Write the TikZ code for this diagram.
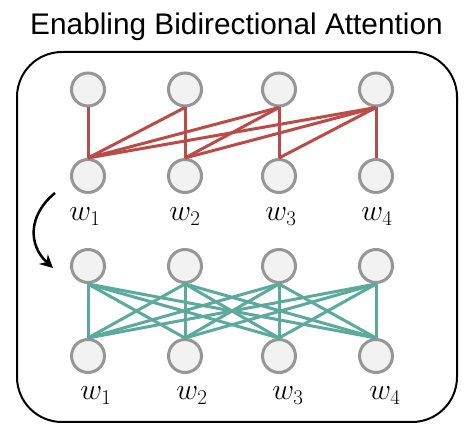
\RequirePackage{fix-cm}
\documentclass[tikz,border=0pt]{standalone}
\usepackage{fontspec}
\newfontfamily\titlefont{Liberation Sans}
\usetikzlibrary{arrows.meta}
\definecolor{ringgray}{HTML}{969696}
\definecolor{ballfill}{HTML}{F2F2F2}
\definecolor{causalred}{HTML}{BC4B48}
\definecolor{biditeal}{HTML}{5CAA9B}
\tikzset{
  tok/.style={circle, draw=ringgray, fill=ballfill, line width=3pt, minimum size=33pt, inner sep=0pt},
  redlink/.style={draw=causalred, line width=3pt},
  teallink/.style={draw=biditeal, line width=3pt},
  wlabel/.style={anchor=base, inner sep=0pt, font=\fontsize{30}{36}\selectfont},
  frame/.style={draw=black, line width=2pt, rounded corners=45pt, inner sep=0pt, minimum width=440pt, minimum height=370pt},
}
\begin{document}
\begin{tikzpicture}[x=1pt,y=-1pt]
\useasboundingbox (0,0) rectangle (474,427);
\node[anchor=base, inner sep=0pt, font=\titlefont\fontsize{29.8}{34}\selectfont] (title) at (236.5,35) {Enabling Bidirectional Attention};
\node[frame] (box) at (237,237) {};
% causal block
\foreach \i/\x in {1/88,2/185,3/279,4/376} {
  \node[tok] (ct\i) at (\x,89.5) {};
  \node[tok] (cb\i) at (\x,176) {};
}
\foreach \i in {1,...,4} {
  \foreach \j in {1,...,\i} {
    \draw[redlink] (ct\i.south) -- (cb\j.north);
  }
}
% bidirectional block
\foreach \i/\x in {1/88,2/185,3/279,4/376} {
  \node[tok] (bt\i) at (\x,266) {};
  \node[tok] (bb\i) at (\x,356) {};
}
\foreach \i in {1,...,4} {
  \foreach \j in {1,...,4} {
    \draw[teallink] (bt\i.south) -- (bb\j.north);
  }
}
% labels
\node[wlabel] (lt1) at (85,221) {$w_1$};
\node[wlabel] (lt2) at (185,221) {$w_2$};
\node[wlabel] (lt3) at (281,221) {$w_3$};
\node[wlabel] (lt4) at (377,221) {$w_4$};
\node[wlabel] (lb1) at (96,400) {$w_1$};
\node[wlabel] (lb2) at (192,400) {$w_2$};
\node[wlabel] (lb3) at (288,400) {$w_3$};
\node[wlabel] (lb4) at (385,400) {$w_4$};
% arrow
\coordinate (arrS) at (55,193);
\coordinate (arrE) at (53,268);
\draw[line width=2.5pt, -{Stealth[length=13pt, width=13pt]}] (arrS) .. controls (28,215) and (28,245) .. (arrE);
\end{tikzpicture}
\end{document}
